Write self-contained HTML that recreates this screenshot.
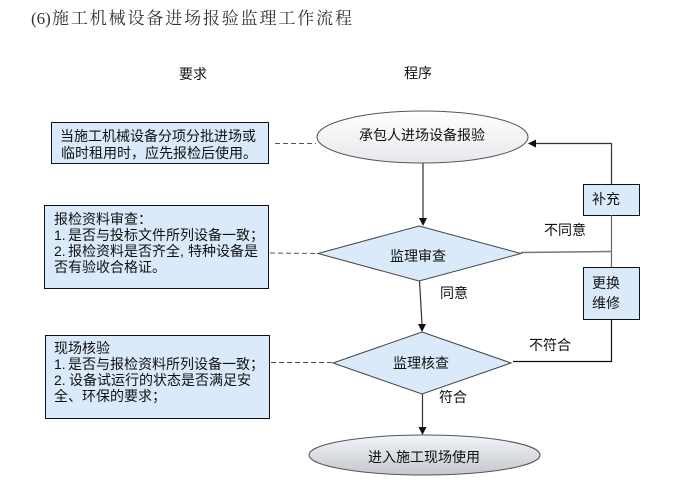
<!DOCTYPE html>
<html><head><meta charset="utf-8"><style>
html,body{margin:0;padding:0;background:#fff;width:680px;height:483px;overflow:hidden}
svg{display:block}
text{font-family:"Liberation Sans","WenQuanYi Zen Hei","Noto Sans CJK SC",sans-serif;font-size:14px;fill:#111}
</style></head><body>
<svg width="680" height="483" viewBox="0 0 680 483" xmlns="http://www.w3.org/2000/svg">
<defs>
<linearGradient id="g1" x1="0" y1="0" x2="0" y2="1"><stop offset="0" stop-color="#ffffff"/><stop offset="1" stop-color="#e6e8ec"/></linearGradient>
<linearGradient id="g2" x1="0" y1="0" x2="0" y2="1"><stop offset="0" stop-color="#f2f6fb"/><stop offset="1" stop-color="#c4c7cb"/></linearGradient>
</defs>
<text x="31" y="24" style="font-family:'Liberation Serif','Noto Serif CJK SC',serif;font-size:17px;fill:#333">(6)</text>
<text x="52" y="24" style="font-family:'Liberation Serif','Noto Serif CJK SC',serif;font-size:17px;fill:#333" textLength="300">施工机械设备进场报验监理工作流程</text>
<text x="179" y="79">要求</text>
<text x="404" y="78">程序</text>

<g fill="#dbeafb" stroke="#111" stroke-width="1">
<rect x="51.5" y="122.5" width="217" height="41"/>
<rect x="44.5" y="205.5" width="224" height="83"/>
<rect x="45.5" y="335.5" width="224" height="83"/>
<rect x="583.5" y="184.5" width="56" height="31"/>
<rect x="583.5" y="267.5" width="56" height="52"/>
</g>

<g fill="none" stroke="#555" stroke-width="1" stroke-dasharray="5 3">
<line x1="275" y1="143.5" x2="316" y2="143.5"/>
<line x1="270" y1="253" x2="318" y2="253.5"/>
<line x1="271" y1="362.5" x2="333" y2="362.5"/>
</g>

<g stroke="#333" stroke-width="1.2" fill="none">
<line x1="423" y1="163" x2="423" y2="218"/>
<line x1="419.5" y1="281" x2="422" y2="324"/>
<line x1="422.5" y1="394" x2="422.5" y2="427"/>
<path d="M611.5 184V143.5H536"/>
<line x1="611.5" y1="215" x2="611.5" y2="267" stroke="#666"/>
<line x1="521" y1="252.5" x2="612" y2="251.5" stroke="#777" stroke-width="1.5"/>
<path d="M611.5 320V361.5H513" stroke="#111"/>
</g>
<g fill="#111">
<polygon points="419,218 427,218 423,226"/>
<polygon points="418,324 426,324 422,332"/>
<polygon points="418.500,427 426.500,427 422.500,435"/>
<polygon points="528,143.500 536,139.500 536,147.500"/>
</g>

<ellipse cx="422.500" cy="137" rx="105.500" ry="26" fill="url(#g1)" stroke="#555" stroke-width="1"/>
<ellipse cx="424.500" cy="455" rx="115.500" ry="20" fill="url(#g2)" stroke="#555" stroke-width="1"/>
<polygon points="419,226 521,253.500 419,281 318,253.500" fill="#dbeafb" stroke="#444" stroke-width="1"/>
<polygon points="422,332 511,363 422,394 333,363" fill="#dbeafb" stroke="#444" stroke-width="1"/>

<text x="60" y="141">当施工机械设备分项分批进场或</text>
<text x="61" y="158">临时租用时，应先报检后使用。</text>

<text x="54" y="224">报检资料审查：</text>
<text x="54" y="240">1.<tspan x="68">是否与投标文件所列设备一致；</tspan></text>
<text x="54" y="256">2.<tspan x="68">报检资料是否齐全,</tspan><tspan x="188">特种设备是</tspan></text>
<text x="54" y="272">否有验收合格证。</text>

<text x="54" y="353">现场核验</text>
<text x="54" y="369">1.<tspan x="68">是否与报检资料所列设备一致；</tspan></text>
<text x="54" y="385">2.<tspan x="69">设备试运行的状态是否满足安</tspan></text>
<text x="54" y="401">全、环保的要求；</text>

<text x="359" y="140">承包人进场设备报验</text>
<text x="390" y="261">监理审查</text>
<text x="393" y="368">监理核查</text>
<text x="368" y="462">进入施工现场使用</text>

<text x="592" y="204">补充</text>
<text x="592" y="288">更换</text>
<text x="592" y="308">维修</text>
<text x="544" y="235">不同意</text>
<text x="440" y="298">同意</text>
<text x="529" y="350">不符合</text>
<text x="439" y="402">符合</text>
</svg>
</body></html>
